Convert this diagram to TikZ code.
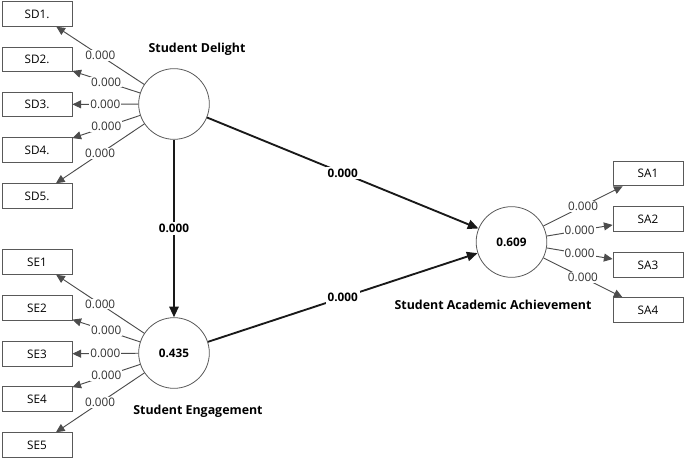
\documentclass[tikz,border=0pt]{standalone}
\usepackage{fontspec}
\setmainfont{Open Sans}
\usetikzlibrary{arrows.meta,positioning}

\begin{document}
\begin{tikzpicture}[x=0.75pt,y=-0.75pt,font=\fontsize{8.8}{10}\selectfont,
 ind/.style={draw=black!65,line width=.6pt,fill=white,minimum width=52.5pt,minimum height=18.5pt,inner sep=0pt},
 lv/.style={circle,draw=black!65,line width=.6pt,fill=white,minimum size=53pt,inner sep=0pt,font=\fontsize{8.8}{10}\selectfont\bfseries},
 lvname/.style={font=\fontsize{9.3}{11}\selectfont\bfseries},
 load/.style={draw=black!70,line width=.7pt,-{Triangle[length=6.5pt,width=6pt]}},
 path/.style={draw=black!90,line width=1.4pt,-{Triangle[length=8pt,width=7pt]}},
 lbl/.style={fill=white,inner sep=.8pt,text=black!80},
 plbl/.style={fill=white,inner sep=1.5pt,font=\fontsize{8.8}{10}\selectfont\bfseries}]
\useasboundingbox (0,0) rectangle (685,459);
\node[lv] (sd) at (174,104) {};
\node[lv] (se) at (174,353) {0.435};
\node[lv] (sa) at (511.5,242) {0.609};
\node[lvname] (sdn) at (197,49) {Student Delight};
\node[lvname] (sen) at (198,411) {Student Engagement};
\node[lvname] (san) at (493,305) {Student Academic Achievement};
\node[ind] (sd1) at (37,14) {SD1.};
\node[ind] (sd2) at (37,59.5) {SD2.};
\node[ind] (sd3) at (37,104.5) {SD3.};
\node[ind] (sd4) at (37,150) {SD4.};
\node[ind] (sd5) at (37,196) {SD5.};
\node[ind] (se1) at (37,262) {SE1};
\node[ind] (se2) at (37,308) {SE2};
\node[ind] (se3) at (37,354) {SE3};
\node[ind] (se4) at (37,399) {SE4};
\node[ind] (se5) at (37,445) {SE5};
\node[ind] (sa1) at (648,173.5) {SA1};
\node[ind] (sa2) at (648,219) {SA2};
\node[ind] (sa3) at (648,265) {SA3};
\node[ind] (sa4) at (648,310) {SA4};
\draw[load] (sd)--node[lbl]{0.000}(sd1);
\draw[load] (sd)--node[lbl]{0.000}(sd2);
\draw[load] (sd)--node[lbl]{0.000}(sd3);
\draw[load] (sd)--node[lbl]{0.000}(sd4);
\draw[load] (sd)--node[lbl]{0.000}(sd5);
\draw[load] (se)--node[lbl]{0.000}(se1);
\draw[load] (se)--node[lbl]{0.000}(se2);
\draw[load] (se)--node[lbl]{0.000}(se3);
\draw[load] (se)--node[lbl]{0.000}(se4);
\draw[load] (se)--node[lbl]{0.000}(se5);
\draw[load] (sa)--node[lbl]{0.000}(sa1);
\draw[load] (sa)--node[lbl]{0.000}(sa2);
\draw[load] (sa)--node[lbl]{0.000}(sa3);
\draw[load] (sa)--node[lbl]{0.000}(sa4);
\draw[path] (sd)--node[plbl]{0.000}(se);
\draw[path] (sd)--node[plbl]{0.000}(sa);
\draw[path] (se)--node[plbl]{0.000}(sa);
\end{tikzpicture}
\end{document}
